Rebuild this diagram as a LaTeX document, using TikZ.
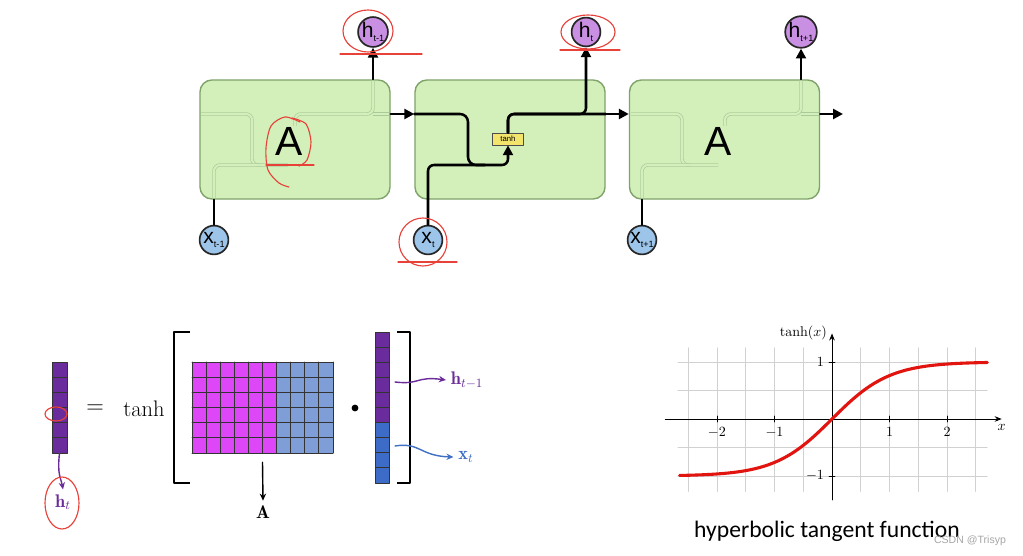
\documentclass[tikz,border=0pt]{standalone}
\usepackage{fontspec}
\setsansfont{Liberation Sans}
\newfontfamily\captionfont{Carlito}
\usetikzlibrary{positioning,arrows.meta}
\newcommand{\subtext}[1]{\raisebox{-0.4ex}{\fontsize{6.5}{6.5}\selectfont #1}}
\definecolor{cellgreen}{HTML}{D3F0BA}
\definecolor{cellborder}{HTML}{7FA36A}
\definecolor{ghostline}{HTML}{A9C99A}
\definecolor{hpurple}{HTML}{C98FE2}
\definecolor{xblue}{HTML}{9DC5EA}
\definecolor{tanhyellow}{HTML}{F3E46C}
\definecolor{vecpurple}{HTML}{6A2B9C}
\definecolor{vecblue}{HTML}{3C6CC8}
\definecolor{matmagenta}{HTML}{DD47F7}
\definecolor{matblue}{HTML}{7F9ED8}
\definecolor{labpurple}{HTML}{6B2C9A}
\definecolor{labblue}{HTML}{4070C4}
\definecolor{curvered}{HTML}{E2140F}
\definecolor{markred}{HTML}{E8413A}
\tikzset{
  cell/.style={draw=cellborder,line width=1pt,fill=cellgreen,rounded corners=0.3cm,
    minimum width=4.75cm,minimum height=2.975cm,inner sep=0pt},
  cellname/.style={font=\sffamily\fontsize{29}{29}\selectfont},
  state/.style={circle,draw=black!85,line width=1.2pt,minimum size=0.72cm,inner sep=0pt,
    font=\sffamily\fontsize{15}{15}\selectfont},
  hstate/.style={state,fill=hpurple},
  xstate/.style={state,fill=xblue},
  tanhbox/.style={draw=black!70,line width=0.5pt,fill=tanhyellow,minimum width=0.775cm,
    minimum height=0.3cm,inner sep=0pt,font=\sffamily\fontsize{5.5}{5.5}\selectfont},
  flow/.style={line width=1.8pt,black},
  ghost/.style={draw=ghostline,line width=0.45pt,double=cellgreen,double distance=1.5pt,line cap=butt},
  vcell/.style={draw=black!80,line width=0.6pt},
  gridl/.style={draw=black!80,line width=0.6pt},
  bracket/.style={line width=1.5pt,line cap=butt},
  thinarr/.style={line width=1pt,-{Stealth[length=5pt,width=4.5pt]}},
  redmark/.style={draw=markred,line width=0.8pt},
  gridc/.style={draw=black!18,line width=0.5pt},
  axis/.style={line width=0.6pt,black},
}
\begin{document}
\begin{tikzpicture}[x=0.025cm,y=-0.025cm,>={Triangle[length=7pt,width=7pt]},line join=round,line cap=round]
\useasboundingbox (0,0) rectangle (1023,556);
\fill[white] (0,0) rectangle (1023,556);

% states
\node[hstate] (h1) at (373,32) {h\subtext{t-1}};
\node[hstate] (h2) at (586,32) {h\subtext{t}};
\node[hstate] (h3) at (801,32) {h\subtext{t+1}};
\node[xstate] (x1) at (214,240) {x\subtext{t-1}};
\node[xstate] (x2) at (428,240) {x\subtext{t}};
\node[xstate] (x3) at (642,240) {x\subtext{t+1}};

% cells
\node[cell] (A1) at (295,139.5) {};
\node[cell] (A2) at (510,139.5) {};
\node[cell] (A3) at (724.5,139.5) {};

% wiring seen through cells 1 and 3
\foreach \cl/\cn in {200/1,630/3}{
  \draw[ghost,rounded corners=0.15cm] (\cl+1,114) -- (\cl+52,114) -- (\cl+52,165) -- (\cl+88,165);
  \draw[ghost,rounded corners=0.15cm] (x\cn |- 0,198.5) |- (\cl+60,165);
  \draw[ghost,rounded corners=0.15cm] (\cl+95,126) |- (h\cn |- 0,114) -- (h\cn |- 0,80.5);
  \draw[ghost] (h\cn |- 0,114) -- (\cl+189,114);
  \draw[flow] (x\cn.north) -- (x\cn |- A\cn.south);
  \draw[flow,->] (h\cn |- A\cn.north) -- (h\cn.south);
}
\node[cellname] (nA1) at (289,141) {A};
\node[cellname] (nA3) at (718,141) {A};

% cell 2
\node[tanhbox] (tanh) at (508,139) {tanh};
\draw[flow,rounded corners=0.2cm] (A2.west |- 0,114) -- (468,114) -- (468,165) -- (485,165);
\draw[flow,->,rounded corners=0.15cm] (x2.north) |- (tanh.south |- 0,165) -- (tanh.south);
\draw[flow,rounded corners=0.15cm] (tanh.north) |- (A2.east |- 0,114);
\draw[flow,->,rounded corners=0.15cm] (tanh.north) |- (h2 |- 0,114) -- (h2.south);

% between cells
\coordinate (out3) at (843,114);
\draw[flow,->] (A1.east |- 0,114) -- (A2.west |- 0,114);
\draw[flow,->] (A2.east |- 0,114) -- (A3.west |- 0,114);
\draw[flow,->] (A3.east |- 0,114) -- (out3);

% red marks, top
\draw[redmark] (368,31) ellipse (25 and 21);
\draw[redmark] (340,54) -- (422,54);
\draw[redmark] (588,32) ellipse (27 and 17);
\draw[redmark] (560,50) -- (620,50);
\draw[redmark] (423,242) ellipse (24 and 24);
\draw[redmark] (398,262) -- (457,262);
\draw[redmark] plot[smooth] coordinates {(300,122) (285,117) (271,126) (266,148) (268,170) (279,183) (289,187)};
\draw[redmark] plot[smooth] coordinates {(292,118) (306,124) (311,142) (307,160) (299,166)};
\draw[redmark] (266,165) -- (314,165);

% h_t vector
\foreach \j in {0,...,5}
  \draw[vcell,fill=vecpurple] (52,362+\j*15.17) rectangle ++(15,15.17);
\node[inner sep=0pt,minimum width=0.375cm,minimum height=2.275cm] (hvec) at (59.5,407.5) {};

% weight matrix
\fill[matmagenta] (192,362) rectangle (276.6,453);
\fill[matblue] (276.6,362) rectangle (333,453);
\foreach \i in {0,...,10}
  \draw[gridl] (192+\i*14.1,362) -- (192+\i*14.1,453);
\foreach \j in {0,...,6}
  \draw[gridl] (192,362+\j*15.17) -- (333,362+\j*15.17);
\node[inner sep=0pt,minimum width=3.525cm,minimum height=2.275cm] (Amat) at (262.5,407.5) {};

% stacked vector
\foreach \j in {0,...,5}
  \draw[vcell,fill=vecpurple] (375,332+\j*15.1) rectangle ++(14,15.1);
\foreach \j in {6,...,9}
  \draw[vcell,fill=vecblue] (375,332+\j*15.1) rectangle ++(14,15.1);
\node[inner sep=0pt,minimum width=0.35cm,minimum height=3.775cm] (xvec) at (382,407.5) {};

% brackets and operators
\draw[bracket] (190,332) -- (174,332) -- (174,483) -- (190,483);
\draw[bracket] (397,332) -- (410,332) -- (410,483) -- (397,483);
\node[font=\fontsize{16}{16}\selectfont] (eq) at (95,409) {$=$};
\node[font=\fontsize{16}{16}\selectfont] (tanhw) at (144,409) {tanh};
\node[circle,fill,inner sep=0pt,minimum size=0.17cm] (dot) at (355,408) {};

% labels
\node[text=labpurple,font=\fontsize{13}{13}\selectfont] (htlab) at (63,502) {$\mathbf{h}_t$};
\node[text=labpurple,font=\fontsize{13}{13}\selectfont] (hprevlab) at (467,380) {$\mathbf{h}_{t-1}$};
\node[text=labblue,font=\fontsize{13}{13}\selectfont] (xtlab) at (466,457) {$\mathbf{x}_t$};
\node[font=\fontsize{13}{13}\selectfont] (Alab) at (263,512) {$\mathbf{A}$};
\coordinate (hsrc) at (395,382);
\coordinate (xsrc) at (395,446);
\draw[thinarr,labpurple] (hvec.south) .. controls (57,475) and (61,478) .. (htlab.north);
\draw[thinarr,labpurple] (hsrc) .. controls (420,385) and (416,376) .. (hprevlab.west);
\draw[thinarr,labblue] (xsrc) .. controls (420,442) and (420,456) .. (xtlab.west);
\draw[thinarr,black] ([yshift=-0.225cm]Amat.south) -- (Alab.north);

% red marks, bottom
\draw[redmark] (56,414) ellipse (11 and 7);
\draw[redmark] (62,503) ellipse (17 and 26);

% tanh graph
\begin{scope}[shift={(832,419)},x=1.4375cm,y=1.425cm]
  \draw[gridc] (-2.68,-1.27) grid[step=0.5] (2.7,1.25);
  \draw[axis,->,>={Stealth[length=5pt,width=4pt]}] (-2.9,0) -- (2.95,0) node[below] (xaxl) {$x$};
  \draw[axis,->,>={Stealth[length=5pt,width=4pt]}] (0,-1.42) -- (0,1.5) node[left] (yaxl) {$\tanh(x)$};
  \foreach \t in {-2,-1,1,2}
    \draw[axis] (\t,0.05) -- (\t,-0.05) node[below] {$\t$};
  \foreach \t in {-1,1}
    \draw[axis] (0.05,\t) -- (-0.05,\t) node[left] {$\t$};
  \draw[curvered,line width=2.2pt] plot[domain=-2.65:2.7,samples=120] (\x,{tanh(\x)});
\end{scope}
\node[font=\captionfont\fontsize{16.8}{16.8}\selectfont] (title) at (827,531) {hyperbolic tangent function};
\node[text=black!35,font=\sffamily\fontsize{7.5}{7.5}\selectfont] (mark) at (970,541) {CSDN @Trisyp};
\end{tikzpicture}
\end{document}
